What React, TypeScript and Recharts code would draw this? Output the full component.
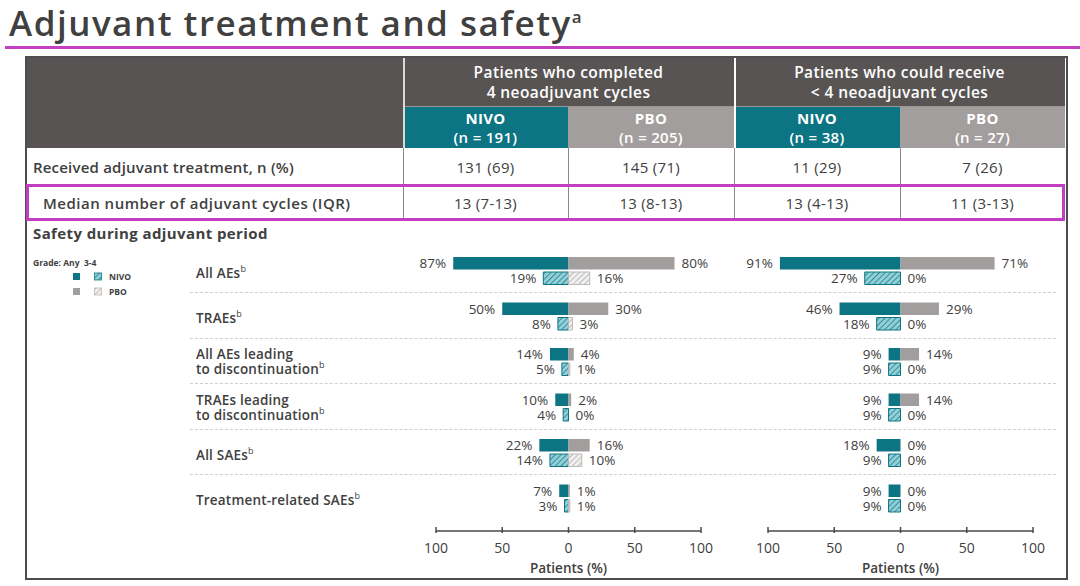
import React from "react";
import { BarChart, Bar, XAxis, YAxis, LabelList } from "recharts";

// safety categories ("|" = line break)
const categories = [
  "All AEs",
  "TRAEs",
  "All AEs leading|to discontinuation",
  "TRAEs leading|to discontinuation",
  "All SAEs",
  "Treatment-related SAEs",
];

// patients who completed 4 neoadjuvant cycles (%)
const completedNivoAny = [87, 50, 14, 10, 22, 7];
const completedPboAny = [80, 30, 4, 2, 16, 1];
const completedNivoG34 = [19, 8, 5, 4, 14, 3];
const completedPboG34 = [16, 3, 1, 0, 10, 1];

// patients who could receive < 4 neoadjuvant cycles (%)
const partialNivoAny = [91, 46, 9, 9, 18, 9];
const partialPboAny = [71, 29, 14, 14, 0, 0];
const partialNivoG34 = [27, 18, 9, 9, 9, 9];
const partialPboG34 = [0, 0, 0, 0, 0, 0];

const xTicks = [-100, -50, 0, 50, 100];

// table
const groupHeaders = ["Patients who completed|4 neoadjuvant cycles", "Patients who could receive|< 4 neoadjuvant cycles"];
const arms = ["NIVO", "PBO", "NIVO", "PBO"];
const armN = [191, 205, 38, 27];
const receivedAdjuvant = ["131 (69)", "145 (71)", "11 (29)", "7 (26)"];
const medianCycles = ["13 (7-13)", "13 (8-13)", "13 (4-13)", "11 (3-13)"];

const TEAL = "#0c7482";
const GRAY = "#a39e9e";
const DARK = "#585453";
const TEXT = "#404040";
const MAGENTA = "#c23ec2";
const FONT = "'Open Sans', 'Noto Sans', sans-serif";

const colX = [403, 568, 734, 900, 1065];
const CHART_TOP = 248;
const separators = [292, 337.5, 383, 428.5, 474];

function buildRows(nivoAny: number[], pboAny: number[], nivoG34: number[], pboG34: number[]) {
  return categories.map((name, i) => ({
    name,
    nivoAny: -nivoAny[i],
    pboAny: pboAny[i],
    nivoG34: -nivoG34[i],
    pboG34: pboG34[i],
  }));
}

const pctText = (x: number, y: number, v: number, anchor: string) => (
  <text x={x} y={y} dy="0.36em" textAnchor={anchor} fontSize={13.5} fill={TEXT} fontFamily={FONT}>
    {Math.abs(v)}%
  </text>
);

// label at the bar end; the NIVO label also writes the PBO "0%" when that bar is empty
const PctLabel = (props: any) => {
  const { x, y, width, height, value, index, partner } = props;
  const v = Number(value);
  const neg = v < 0;
  const x0 = Number(x);
  const w = Number(width) || 0;
  const cy = Number(y) + Number(height) / 2;
  const end = neg ? Math.min(x0, x0 + w) : Math.max(x0, x0 + w);
  const zero = neg ? Math.max(x0, x0 + w) : Math.min(x0, x0 + w);
  return (
    <g>
      {pctText(neg ? end - 7 : end + 7, cy, v, neg ? "end" : "start")}
      {partner && partner[index] === 0 && pctText(zero + 7, cy, 0, "start")}
    </g>
  );
};

const AxisTick = (props: any) => {
  const { x, y, payload } = props;
  return (
    <g>
      <line x1={x} x2={x} y1={y} y2={y - 6} stroke="#4a4a4a" strokeWidth={1.5} />
      <text x={x} y={y + 20} textAnchor="middle" fontSize={14} fill={TEXT} fontFamily={FONT}>
        {Math.abs(payload.value)}
      </text>
    </g>
  );
};

const CategoryTick = (props: any) => {
  const { y, payload } = props;
  const lines = String(payload.value).split("|");
  const lh = 15;
  const y0 = y - ((lines.length - 1) * lh) / 2 + (lines.length === 1 ? 2 : 0);
  return (
    <g>
      {lines.map((l, i) => (
        <text key={i} x={6} y={y0 + i * lh} dy="0.36em" fontSize={13.5} fontWeight={600} fill={TEXT} fontFamily={FONT} letterSpacing={0.2}>
          {l}
          {i === lines.length - 1 && (
            <tspan fontSize={9} fontWeight={400} dy={-6}>
              b
            </tspan>
          )}
        </text>
      ))}
    </g>
  );
};

function SafetyChart({ rows, withLabels, left, width, marginLeft }: any) {
  const pboAny = rows.map((r: any) => r.pboAny);
  const pboG34 = rows.map((r: any) => r.pboG34);
  return (
    <div style={{ position: "absolute", left, top: CHART_TOP }}>
      <BarChart
        width={width}
        height={328}
        data={rows}
        layout="vertical"
        stackOffset="sign"
        barSize={12.5}
        barGap={2.5}
        margin={{ top: 0, right: 20, bottom: 0, left: marginLeft }}
      >
        <XAxis
          type="number"
          domain={[-100, 100]}
          ticks={xTicks}
          tickSize={0}
          tickLine={false}
          tick={<AxisTick />}
          axisLine={{ stroke: "#4a4a4a", strokeWidth: 1.5 }}
          height={45}
          label={{ value: "Patients (%)", position: "insideBottom", offset: 3, fill: TEXT, fontSize: 13.5, fontWeight: 600, fontFamily: FONT }}
        />
        <YAxis
          type="category"
          dataKey="name"
          hide={!withLabels}
          width={246}
          axisLine={false}
          tickLine={false}
          tick={<CategoryTick />}
          interval={0}
          padding={{ top: 0, bottom: 10 }}
        />
        <Bar dataKey="nivoAny" stackId="any" fill={TEAL} isAnimationActive={false}>
          <LabelList dataKey="nivoAny" content={<PctLabel partner={pboAny} />} />
        </Bar>
        <Bar dataKey="pboAny" stackId="any" fill={GRAY} isAnimationActive={false}>
          <LabelList dataKey="pboAny" content={<PctLabel />} />
        </Bar>
        <Bar dataKey="nivoG34" stackId="g34" fill="url(#hatchNivo)" stroke={TEAL} strokeWidth={1} isAnimationActive={false}>
          <LabelList dataKey="nivoG34" content={<PctLabel partner={pboG34} />} />
        </Bar>
        <Bar dataKey="pboG34" stackId="g34" fill="url(#hatchPbo)" stroke="#bdb9b9" strokeWidth={1} isAnimationActive={false}>
          <LabelList dataKey="pboG34" content={<PctLabel />} />
        </Bar>
      </BarChart>
    </div>
  );
}

const abs = (left: number, top: number, width: number, height: number, extra: any = {}) => ({
  position: "absolute" as const,
  left,
  top,
  width,
  height,
  boxSizing: "border-box" as const,
  ...extra,
});

function Cell({ x0, x1, y0, y1, children, style }: any) {
  return (
    <div
      style={abs(x0, y0, x1 - x0, y1 - y0, {
        display: "flex",
        flexDirection: "column",
        alignItems: "center",
        justifyContent: "center",
        textAlign: "center",
        ...style,
      })}
    >
      {children}
    </div>
  );
}

export default function App() {
  const completedRows = buildRows(completedNivoAny, completedPboAny, completedNivoG34, completedPboG34);
  const partialRows = buildRows(partialNivoAny, partialPboAny, partialNivoG34, partialPboG34);

  return (
    <div
      style={{
        position: "absolute",
        left: 0,
        top: 0,
        width: 1080,
        height: 586,
        background: "#fff",
        overflow: "hidden",
        fontFamily: FONT,
        color: TEXT,
      }}
    >
      <svg width={0} height={0} style={{ position: "absolute" }}>
        <defs>
          <pattern id="hatchNivo" patternUnits="userSpaceOnUse" width={4} height={4} patternTransform="rotate(45)">
            <rect width={4} height={4} fill="#93cfd7" />
            <line x1={0} y1={0} x2={0} y2={4} stroke={TEAL} strokeWidth={1.4} />
          </pattern>
          <pattern id="hatchPbo" patternUnits="userSpaceOnUse" width={4} height={4} patternTransform="rotate(45)">
            <rect width={4} height={4} fill="#f1f0f0" />
            <line x1={0} y1={0} x2={0} y2={4} stroke="#aaa5a5" strokeWidth={1.4} />
          </pattern>
        </defs>
      </svg>

      {/* title */}
      <div style={abs(9, 0, 760, 46, { fontSize: 35, fontWeight: 600, lineHeight: "46px", whiteSpace: "nowrap", letterSpacing: 1.5 })}>
        Adjuvant treatment and safety
        <span style={{ fontSize: 17, verticalAlign: "top", lineHeight: "34px", letterSpacing: 0 }}>a</span>
      </div>
      <div style={abs(5, 46, 1075, 2.5, { background: MAGENTA })} />

      {/* outer frame */}
      <div style={abs(25, 56, 1043, 524, { border: "2px solid #4d4d4d" })} />

      {/* header */}
      <div style={abs(27, 58, colX[4] - 27, 90, { background: DARK })} />
      {groupHeaders.map((g, i) => (
        <Cell
          key={g}
          x0={colX[i * 2]}
          x1={colX[i * 2 + 2]}
          y0={58}
          y1={106}
          style={{ color: "#fff", fontSize: 15.5, fontWeight: 600, lineHeight: "20px", letterSpacing: 0.4 }}
        >
          {g.split("|").map((l) => (
            <div key={l}>{l}</div>
          ))}
        </Cell>
      ))}
      {arms.map((a, i) => (
        <Cell
          key={i}
          x0={colX[i]}
          x1={colX[i + 1]}
          y0={106}
          y1={148}
          style={{
            background: a === "NIVO" ? TEAL : GRAY,
            color: "#fff",
            fontSize: 15,
            fontWeight: 600,
            lineHeight: "19px",
            letterSpacing: 0.3,
            borderTop: "1px solid #9a9696",
          }}
        >
          <div style={{ fontWeight: 700 }}>{a}</div>
          <div>(n = {armN[i]})</div>
        </Cell>
      ))}
      <div style={abs(colX[0], 58, 1.5, 90, { background: "#d9d9d9" })} />
      <div style={abs(colX[2], 58, 1.5, 90, { background: "#ffffff" })} />

      {/* data rows */}
      <div style={abs(33, 148, 370, 37, { display: "flex", alignItems: "center", fontSize: 15, fontWeight: 600, letterSpacing: 0.2 })}>
        Received adjuvant treatment, n (%)
      </div>
      {receivedAdjuvant.map((v, i) => (
        <Cell key={i} x0={colX[i]} x1={colX[i + 1]} y0={148} y1={185} style={{ fontSize: 15, letterSpacing: 0.3 }}>
          {v}
        </Cell>
      ))}
      <div style={abs(43, 185, 360, 35, { display: "flex", alignItems: "center", fontSize: 15, fontWeight: 600, letterSpacing: 0.5 })}>
        Median number of adjuvant cycles (IQR)
      </div>
      {medianCycles.map((v, i) => (
        <Cell key={i} x0={colX[i]} x1={colX[i + 1]} y0={185} y1={220} style={{ fontSize: 15, letterSpacing: 0.3 }}>
          {v}
        </Cell>
      ))}
      {colX.slice(0, 4).map((x) => (
        <div key={x} style={abs(x, 148, 1, 72, { background: "#8a8a8a" })} />
      ))}
      <div style={abs(27, 184.5, colX[4] - 27, 1, { background: "#8a8a8a" })} />
      <div style={abs(26, 184, colX[4] - 26, 37, { border: `3px solid ${MAGENTA}` })} />

      {/* safety section */}
      <div style={abs(33, 223, 400, 20, { fontSize: 15, fontWeight: 700, lineHeight: "20px", letterSpacing: 0.4 })}>
        Safety during adjuvant period
      </div>
      <div style={abs(33, 257, 120, 12, { fontSize: 8.5, fontWeight: 700, lineHeight: "12px", whiteSpace: "nowrap" })}>
        Grade: Any&nbsp;&nbsp;3-4
      </div>
      <svg style={abs(70, 268, 70, 30)} width={70} height={30}>
        <rect x={3} y={5} width={7} height={7} fill={TEAL} />
        <rect x={24.5} y={5} width={7} height={7} fill="url(#hatchNivo)" stroke={TEAL} strokeWidth={0.8} />
        <text x={39} y={8.5} dy="0.36em" fontSize={8.5} fontWeight={700} fill={TEXT} fontFamily={FONT}>
          NIVO
        </text>
        <rect x={3} y={20} width={7} height={7} fill={GRAY} />
        <rect x={24.5} y={20} width={7} height={7} fill="url(#hatchPbo)" stroke="#bdb9b9" strokeWidth={0.8} />
        <text x={39} y={23.5} dy="0.36em" fontSize={8.5} fontWeight={700} fill={TEXT} fontFamily={FONT}>
          PBO
        </text>
      </svg>

      {separators.map((y) => (
        <div key={y} style={abs(190, y, 866, 1, { borderTop: "1px dashed #cfcfcf" })} />
      ))}

      <SafetyChart rows={completedRows} withLabels left={190} width={531} marginLeft={0} />
      <SafetyChart rows={partialRows} withLabels={false} left={728} width={325} marginLeft={40} />
    </div>
  );
}
